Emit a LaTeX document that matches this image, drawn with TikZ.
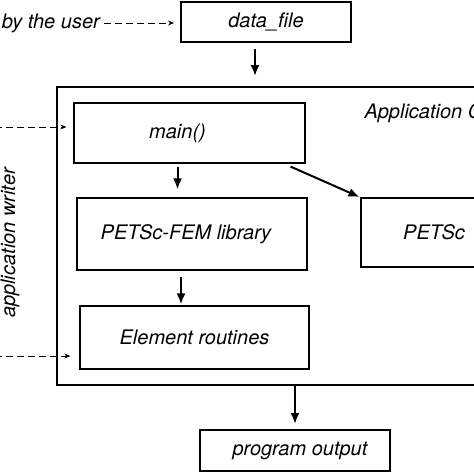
\documentclass[tikz,border=0pt]{standalone}
\usepackage{fontspec}
\setmainfont{TeX Gyre Heros}
\usetikzlibrary{arrows, arrows.meta, positioning}

\begin{document}
\begin{tikzpicture}[x=1pt, y=-1pt, font=\fontsize{20}{23}\selectfont\itshape]
    \tikzstyle{blk} = [rectangle, draw, line width=1.2pt, inner sep=0pt]
    \tikzstyle{io} = [rectangle, draw, line width=2pt, inner sep=0pt]
    \tikzstyle{arr} = [-{Latex[length=11pt,width=9pt]}, line width=2pt]
    \tikzstyle{usr} = [-{Stealth[length=6pt,width=5pt]}, line width=0.9pt, dash pattern=on 7pt off 4pt]
    \useasboundingbox (0,0) rectangle (474,474);
    \clip (0,0) rectangle (474,474);

    \node [io, minimum width=170pt, minimum height=40pt] (data) at (266,22) {data\_file};
    \node [io, minimum width=423pt, minimum height=298pt] (app) at (268.5,236) {};
    \node [anchor=west] (appname) at (361,113) {Application C};
    \node [blk, minimum width=231pt, minimum height=60pt] (main) at (189.5,133) {\hspace*{-24pt}main()};
    \node [blk, minimum width=230pt, minimum height=72pt] (fem) at (192,234) {\hspace*{-12pt}PETSc-FEM library};
    \node [blk, minimum width=229pt, minimum height=63pt] (elem) at (194.5,337.5) {Element routines};
    \node [blk, minimum width=146pt, minimum height=69pt] (petsc) at (434,232.5) {PETSc};
    \node [io, minimum width=190pt, minimum height=41pt] (out) at (295,450.5) {\hspace*{10pt}program output};

    \node [anchor=east, inner sep=0pt] (user) at (100,23) {by the user};
    \node [rotate=90, anchor=base, inner sep=0pt] (writer) at (15,243) {application writer};
    \coordinate (w1) at (-5,127);
    \coordinate (w2) at (-5,356);

    \draw [arr, shorten <=6pt, shorten >=10pt] ([xshift=-11pt]data.south) -- ([xshift=-11pt]data.south |- app.north);
    \draw [arr, shorten <=3pt, shorten >=8pt] ([xshift=-12pt]main.south) -- ([xshift=-12pt]main.south |- fem.north);
    \draw [arr, shorten <=6pt, shorten >=1pt] ([xshift=-11pt]fem.south) -- ([xshift=-11pt]fem.south |- elem.north);
    \draw [arr, shorten >=1pt] ([shift={(-15pt,-3pt)}]main.south east) -- (petsc.north west);
    \draw [arr, shorten >=5pt] (out.north |- app.south) -- (out.north);

    \draw [usr, shorten <=4pt, shorten >=6pt] (user.east) -- (user.east -| data.west);
    \draw [usr, shorten >=7pt] (w1) -- (w1 -| main.west);
    \draw [usr, shorten >=9pt] (w2) -- (w2 -| elem.west);
\end{tikzpicture}
\end{document}
